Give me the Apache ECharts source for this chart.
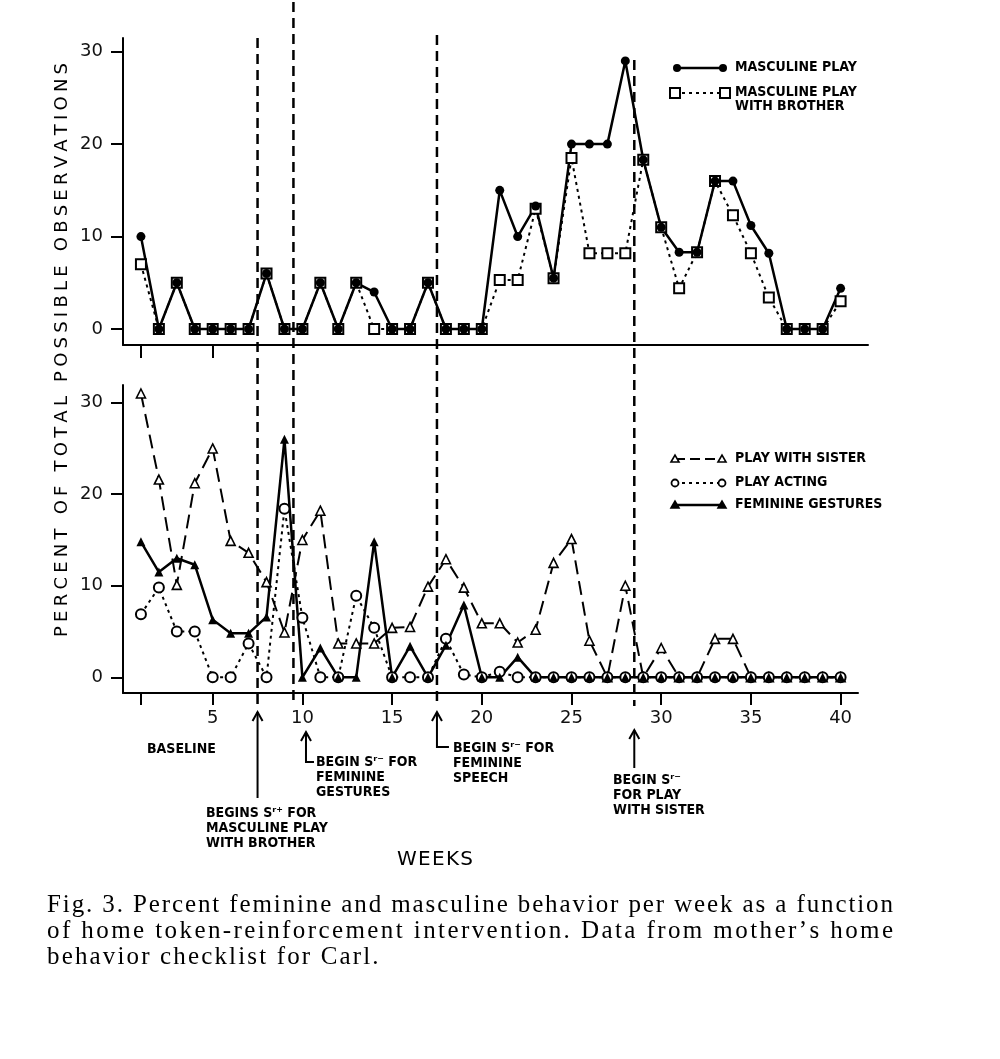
<!DOCTYPE html>
<html>
<head>
<meta charset="utf-8">
<script src="https://cdn.jsdelivr.net/npm/echarts@6/dist/echarts.min.js"></script>
<style>
  html, body { margin: 0; padding: 0; background: #fff; }
  #main { width: 1000px; height: 1059px; }
</style>
</head>
<body>
<div id="main"></div>
<script>
// weeks on the x axis
const weeks = [1, 2, 3, 4, 5, 6, 7, 8, 9, 10, 11, 12, 13, 14, 15, 16, 17, 18, 19, 20,
  21, 22, 23, 24, 25, 26, 27, 28, 29, 30, 31, 32, 33, 34, 35, 36, 37, 38, 39, 40];

// top panel
const masculinePlay = [10, 0, 5, 0, 0, 0, 0, 6, 0, 0, 5, 0, 5, 4, 0, 0, 5, 0, 0, 0,
  15, 10, 13.3, 5.5, 20, 20, 20, 29, 18.3, 11, 8.3, 8.3, 16, 16, 11.2, 8.2, 0, 0, 0, 4.4];
const masculinePlayBrother = [7, 0, 5, 0, 0, 0, 0, 6, 0, 0, 5, 0, 5, 0, 0, 0, 5, 0, 0, 0,
  5.3, 5.3, 13, 5.5, 18.5, 8.2, 8.2, 8.2, 18.3, 11, 4.4, 8.3, 16, 12.3, 8.2, 3.4, 0, 0, 0, 3];

// bottom panel
const playWithSister = [31, 21.6, 10.1, 21.2, 25, 14.9, 13.6, 10.4, 4.9, 15,
  18.2, 3.7, 3.7, 3.7, 5.4, 5.5, 9.9, 12.9, 9.8, 5.9,
  5.9, 3.8, 5.2, 12.5, 15.1, 4.0, 0, 10, 0, 3.2,
  0, 0, 4.2, 4.2, 0, 0, 0, 0, 0, 0];
const playActing = [6.9, 9.8, 5, 5, 0, 0, 3.7, 0, 18.4, 6.5,
  0, 0, 8.9, 5.4, 0, 0, 0, 4.2, 0.3, 0,
  0.6, 0, 0, 0, 0, 0, 0, 0, 0, 0,
  0, 0, 0, 0, 0, 0, 0, 0, 0, 0];
const feminineGestures = [14.8, 11.5, 13, 12.3, 6.3, 4.8, 4.8, 6.6, 26, 0,
  3.2, 0, 0, 14.8, 0, 3.4, 0, 3.5, 7.9, 0,
  0, 2.2, 0, 0, 0, 0, 0, 0, 0, 0,
  0, 0, 0, 0, 0, 0, 0, 0, 0, 0];

// phase changes (week positions of the dashed lines)
const phaseWeeks = [7.5, 9.5, 17.5, 28.5];

// ticks
const yTicks = [0, 10, 20, 30];
const xTicksTop = [1, 5];
const xTicksBottom = [1, 5, 10, 15, 20, 25, 30, 35, 40];
const xLabelsBottom = [5, 10, 15, 20, 25, 30, 35, 40];

const captionLines = [
  'Fig. 3. Percent feminine and masculine behavior per week as a function',
  'of home token-reinforcement intervention. Data from mother\u2019s home',
  'behavior checklist for Carl.'
];

const chart = echarts.init(document.getElementById('main'));

const tickFont = { fontFamily: 'DejaVu Sans', fontSize: 18, color: '#111' };
const pxWeek = 17.94;
const smallFont = 'bold 14px "DejaVu Sans Condensed", "DejaVu Sans"';

function pairs(vals) {
  return weeks.map((w, i) => [w, vals[i]]);
}

function yAxisCfg(gridIndex, min, max) {
  return {
    type: 'value', gridIndex: gridIndex, min: min, max: max,
    splitLine: { show: false },
    axisLine: { show: true, lineStyle: { color: '#000', width: 2 } },
    axisTick: { show: true, length: 12, customValues: yTicks, lineStyle: { color: '#000', width: 2 } },
    axisLabel: Object.assign({ customValues: yTicks, margin: 20 }, tickFont)
  };
}

const option = {
  animation: false,
  backgroundColor: '#fff',
  grid: [
    { left: 123, top: 38, width: 745, height: 307 },
    { left: 123, top: 385, width: 735, height: 308 }
  ],
  xAxis: [
    {
      type: 'value', gridIndex: 0, min: 0, max: 745 / pxWeek,
      splitLine: { show: false },
      axisLine: { onZero: false, lineStyle: { color: '#000', width: 2 } },
      axisTick: { length: 13, customValues: xTicksTop, lineStyle: { color: '#000', width: 2 } },
      axisLabel: { show: false }
    },
    {
      type: 'value', gridIndex: 1, min: 0, max: 735 / pxWeek,
      splitLine: { show: false },
      axisLine: { onZero: false, lineStyle: { color: '#000', width: 2 } },
      axisTick: { length: 12, customValues: xTicksBottom, lineStyle: { color: '#000', width: 2 } },
      axisLabel: Object.assign({ customValues: xLabelsBottom, margin: 16 }, tickFont)
    }
  ],
  yAxis: [
    yAxisCfg(0, -1.73, 31.48),
    yAxisCfg(1, -1.715, 31.93)
  ],
  series: [
    {
      name: 'MASCULINE PLAY WITH BROTHER', type: 'line', xAxisIndex: 0, yAxisIndex: 0,
      data: pairs(masculinePlayBrother), symbol: 'rect', symbolSize: 10,
      itemStyle: { color: '#fff', borderColor: '#000', borderWidth: 2 },
      lineStyle: { color: '#000', width: 2, type: [3, 4] }
    },
    {
      name: 'MASCULINE PLAY', type: 'line', xAxisIndex: 0, yAxisIndex: 0,
      data: pairs(masculinePlay), symbol: 'circle', symbolSize: 9,
      itemStyle: { color: '#000' },
      lineStyle: { color: '#000', width: 2.5 }
    },
    {
      name: 'PLAY WITH SISTER', type: 'line', xAxisIndex: 1, yAxisIndex: 1,
      data: pairs(playWithSister), symbol: 'triangle', symbolSize: 9,
      itemStyle: { color: '#fff', borderColor: '#000', borderWidth: 1.6 },
      lineStyle: { color: '#000', width: 2, type: [14, 7] }
    },
    {
      name: 'PLAY ACTING', type: 'line', xAxisIndex: 1, yAxisIndex: 1,
      data: pairs(playActing), symbol: 'circle', symbolSize: 10,
      itemStyle: { color: '#fff', borderColor: '#000', borderWidth: 2 },
      lineStyle: { color: '#000', width: 2, type: [3, 4] }
    },
    {
      name: 'FEMININE GESTURES', type: 'line', xAxisIndex: 1, yAxisIndex: 1,
      data: pairs(feminineGestures), symbol: 'triangle', symbolSize: 9,
      itemStyle: { color: '#000' },
      lineStyle: { color: '#000', width: 2.5 }
    }
  ]
};

chart.setOption(option);

// ---- annotations ----
const ctx = document.createElement('canvas').getContext('2d');

// lay a string out char by char so the row spans a given width
function spacedChars(str, font, width, gap) {
  ctx.font = font;
  const ws = Array.from(str).map(c => ctx.measureText(c).width);
  const sum = ws.reduce((a, b) => a + b, 0);
  if (gap === undefined) gap = (width - sum) / (ws.length - 1);
  let x = 0;
  const kids = [];
  Array.from(str).forEach((c, i) => {
    if (c !== ' ') {
      kids.push({ type: 'text', x: x, y: 0, style: { text: c, font: font, fill: '#000', textAlign: 'left', textVerticalAlign: 'middle' } });
    }
    x += ws[i] + gap;
  });
  return { kids: kids, gap: gap };
}

function px(week) {
  return chart.convertToPixel({ xAxisIndex: 1 }, week);
}

const g = [];

// dashed phase lines
const dashTops = [38, 2, 35, 60];
phaseWeeks.forEach((w, i) => {
  const x = px(w);
  g.push({ type: 'line', shape: { x1: x, y1: dashTops[i], x2: x, y2: 706 },
    style: { stroke: '#000', lineWidth: 2.5, lineDash: [10, 6] }, z: 10 });
});

function arrow(x, yHead, yEnd, hookTo) {
  const pts = [[x, yEnd], [x, yHead]];
  if (hookTo) pts.unshift([hookTo, yEnd]);
  g.push({ type: 'polyline', shape: { points: pts }, style: { stroke: '#000', lineWidth: 2, fill: null } });
  g.push({ type: 'polyline', shape: { points: [[x - 5, yHead + 9], [x, yHead], [x + 5, yHead + 9]] },
    style: { stroke: '#000', lineWidth: 2, fill: null } });
}

function note(x, y, text) {
  g.push({ type: 'text', x: x, y: y, style: { text: text, font: smallFont, fill: '#000', lineHeight: 15, textAlign: 'left', textVerticalAlign: 'top' } });
}

arrow(px(phaseWeeks[0]), 712, 798);
arrow(px(10.2), 732, 762, px(10.2) + 8);
arrow(px(phaseWeeks[2]), 712, 747, px(phaseWeeks[2]) + 12);
arrow(px(phaseWeeks[3]), 730, 768);

note(147, 742, 'BASELINE');
note(206, 806, 'BEGINS S\u02B3\u207A FOR\nMASCULINE PLAY\nWITH BROTHER');
note(316, 755, 'BEGIN S\u02B3\u207B FOR\nFEMININE\nGESTURES');
note(453, 741, 'BEGIN S\u02B3\u207B FOR\nFEMININE\nSPEECH');
note(613, 773, 'BEGIN S\u02B3\u207B\nFOR PLAY\nWITH SISTER');

// legends
function legendRow(x1, x2, y, lineStyle, sym, label) {
  g.push({ type: 'line', shape: { x1: x1, y1: y, x2: x2, y2: y }, style: Object.assign({ stroke: '#000' }, lineStyle) });
  [x1, x2].forEach(x => {
    if (sym === 'dot') g.push({ type: 'circle', shape: { cx: x, cy: y, r: 4 }, style: { fill: '#000' } });
    if (sym === 'square') g.push({ type: 'rect', shape: { x: x - 5, y: y - 5, width: 10, height: 10 }, style: { fill: '#fff', stroke: '#000', lineWidth: 2 } });
    if (sym === 'ring') g.push({ type: 'circle', shape: { cx: x, cy: y, r: 3.5 }, style: { fill: '#fff', stroke: '#000', lineWidth: 1.8 } });
    if (sym === 'tri' || sym === 'ftri') g.push({ type: 'polygon', shape: { points: [[x - 4, y + 3], [x, y - 4], [x + 4, y + 3]] },
      style: { fill: sym === 'tri' ? '#fff' : '#000', stroke: '#000', lineWidth: 1.6 } });
  });
  g.push({ type: 'text', x: 735, y: y - 8, style: { text: label, font: smallFont, fill: '#000', lineHeight: 14, textAlign: 'left', textVerticalAlign: 'top' } });
}
legendRow(677, 723, 68, { lineWidth: 2.5 }, 'dot', 'MASCULINE PLAY');
legendRow(675, 725, 93, { lineWidth: 2, lineDash: [3, 4] }, 'square', 'MASCULINE PLAY\nWITH BROTHER');
legendRow(675, 722, 459, { lineWidth: 2, lineDash: [10, 5] }, 'tri', 'PLAY WITH SISTER');
legendRow(675, 722, 483, { lineWidth: 2, lineDash: [3, 4] }, 'ring', 'PLAY ACTING');
legendRow(675, 722, 505, { lineWidth: 2.5 }, 'ftri', 'FEMININE GESTURES');

// y axis title, reads bottom to top
const yTitle = spacedChars('PERCENT OF TOTAL POSSIBLE OBSERVATIONS', '18px "DejaVu Sans"', 574);
g.push({ type: 'group', x: 62, y: 637, rotation: Math.PI / 2, children: yTitle.kids });

// x axis title
const xTitle = spacedChars('WEEKS', '20px "DejaVu Sans"', 76);
g.push({ type: 'group', x: 397, y: 860, children: xTitle.kids });

// caption, first two lines justified
const capFont = '25px "Liberation Serif"';
const c1 = spacedChars(captionLines[0], capFont, 846);
const c2 = spacedChars(captionLines[1], capFont, 846);
const c3 = spacedChars(captionLines[2], capFont, 0, (c1.gap + c2.gap) / 2);
g.push({ type: 'group', x: 47, y: 905, children: c1.kids });
g.push({ type: 'group', x: 47, y: 931, children: c2.kids });
g.push({ type: 'group', x: 47, y: 957, children: c3.kids });

chart.setOption({ graphic: g });
</script>
</body>
</html>
